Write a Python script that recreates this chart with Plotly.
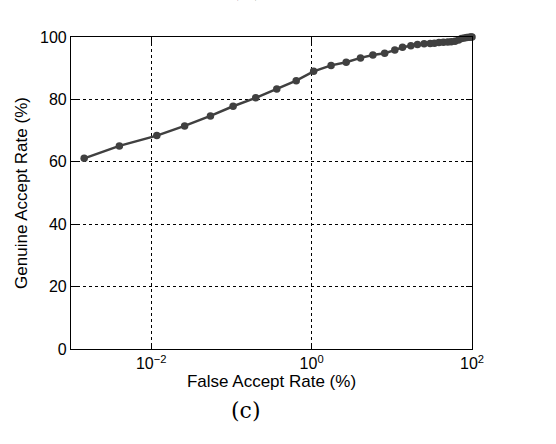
import plotly.graph_objects as go

far = [0.00146, 0.00401, 0.01175, 0.0261, 0.0548, 0.105, 0.201, 0.368, 0.643, 1.06,
       1.75, 2.70, 4.07, 5.81, 8.15, 10.9, 13.6, 17.3, 20.9, 25.3, 30.1, 34.0,
       38.7, 44.0, 49.8, 55.0, 61.4, 68.0, 74.0, 80.0, 86.0, 92.0, 97.0, 100.0]
gar = [61.1, 65.1, 68.4, 71.5, 74.7, 77.8, 80.5, 83.3, 86.0, 89.0,
       90.9, 91.9, 93.3, 94.2, 94.8, 95.8, 96.7, 97.2, 97.6, 97.8, 97.9, 98.0,
       98.2, 98.3, 98.4, 98.5, 98.6, 99.0, 99.5, 99.7, 99.8, 99.9, 100.0, 100.0]

x_tickvals = [0.01, 1, 100]
x_ticktext = ["10<sup>\u22122</sup>", "10<sup>0</sup>", "10<sup>2</sup>"]
y_tickvals = [0, 20, 40, 60, 80, 100]

fig = go.Figure()
fig.add_trace(go.Scatter(
    x=far, y=gar, mode="lines+markers",
    line=dict(color="#404040", width=2.5),
    marker=dict(color="#404040", size=7.5),
    cliponaxis=False,
    showlegend=False,
))

tick_font = dict(family="Liberation Sans, Arial, sans-serif", size=16, color="black")
title_font = dict(family="Liberation Sans, Arial, sans-serif", size=17, color="black")

fig.update_layout(
    width=556, height=444,
    margin=dict(l=71, r=84, t=37, b=95),
    paper_bgcolor="white", plot_bgcolor="white",
    font=tick_font,
    xaxis=dict(
        type="log", range=[-3, 2],
        tickvals=x_tickvals, ticktext=x_ticktext,
        ticks="inside", ticklen=6, tickcolor="black",
        showline=True, linecolor="black", linewidth=1.2, mirror="ticks",
        showgrid=True, gridcolor="black", griddash="dot", gridwidth=1,
        zeroline=False,
        title=dict(text="False Accept Rate (%)", standoff=2, font=title_font),
        tickfont=tick_font,
    ),
    yaxis=dict(
        range=[0, 100],
        tickvals=y_tickvals,
        ticks="inside", ticklen=6, tickcolor="black",
        showline=True, linecolor="black", linewidth=1.2, mirror="ticks",
        showgrid=True, gridcolor="black", griddash="dot", gridwidth=1,
        zeroline=False,
        title=dict(text="Genuine Accept Rate (%)", standoff=8, font=title_font),
        tickfont=tick_font,
    ),
    annotations=[
        dict(text="(c)", xref="paper", yref="paper", x=0.437, y=-0.197,
             xanchor="center", yanchor="middle", showarrow=False,
             font=dict(family="DejaVu Serif, serif", size=22, color="black")),
        dict(text="(b)", xref="paper", yref="paper", x=0.437, y=1.105,
             xanchor="center", yanchor="bottom", showarrow=False,
             font=dict(family="DejaVu Serif, serif", size=22, color="black")),
    ],
)

fig.write_html("out.html")
